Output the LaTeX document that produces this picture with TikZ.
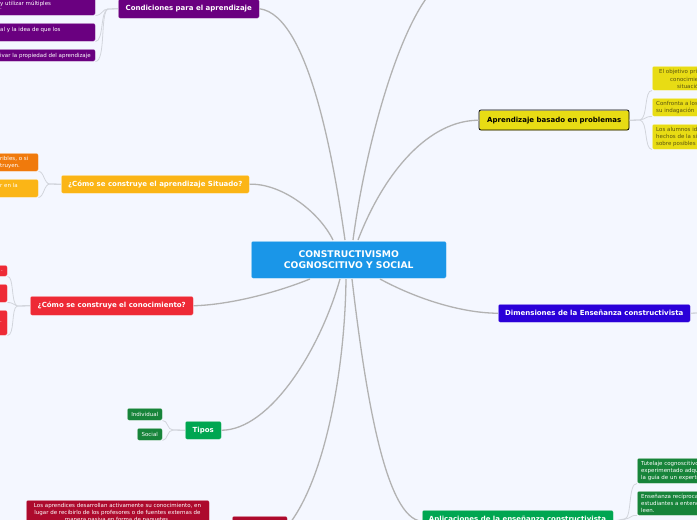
\documentclass[tikz,border=0pt]{standalone}
\usepackage{fontspec}
\setmainfont{DejaVu Sans}
\definecolor{bgc}{HTML}{F4F7FF}
\definecolor{cblue}{HTML}{1A96E8}
\definecolor{cpurple}{HTML}{6A0080}
\definecolor{corange}{HTML}{F07A0C}
\definecolor{camber}{HTML}{FBB516}
\definecolor{cred}{HTML}{EE2A36}
\definecolor{cgreen}{HTML}{00A651}
\definecolor{cdgreen}{HTML}{17843A}
\definecolor{ccrimson}{HTML}{AD0A2D}
\definecolor{cindigo}{HTML}{2A00D9}
\definecolor{cyellow}{HTML}{E8DC14}
\definecolor{mainline}{HTML}{B2B2B2}
\definecolor{subline}{HTML}{D2D5DC}
\definecolor{dtext}{HTML}{5A5410}
\tikzset{
  x=1pt,y=-1pt,
  boxbase/.style={rectangle,rounded corners=2pt,inner sep=0pt,anchor=north west,align=center,draw=white,draw opacity=.45,line width=.5pt},
  main/.style={boxbase,font=\bfseries\fontsize{7}{9}\selectfont,text=white},
  central/.style={boxbase,font=\bfseries\fontsize{9.2}{11}\selectfont,text=white},
  sub/.style={boxbase,font=\fontsize{5.5}{7}\selectfont,text=white},
  lab/.style={inner sep=0pt,draw=none,align=left,anchor=west,font=\fontsize{5.5}{7}\selectfont,text=white},
  mainlink/.style={draw=mainline,line width=1.3pt},
  sublink/.style={draw=subline,line width=.8pt},
  stemlink/.style={draw=subline,line width=1.3pt},
}
\newcommand{\bx}[8]{% name style color x1 y1 x2 y2 text
  \node[#2,fill=#3,minimum width=#6 pt-#4 pt,minimum height=#7 pt-#5 pt] (#1) at (#4,#5) {};
  \node[#2,anchor=center,draw=none,fill=none] at (#1.center) {#8};}
\begin{document}
\begin{tikzpicture}
\useasboundingbox (0,0) rectangle (697,520);
\clip (0,0) rectangle (697,520);
\fill[bgc] (0,0) rectangle (697,520);

% central
\bx{c}{central}{cblue}{251}{241}{446}{278}{CONSTRUCTIVISMO\\COGNOSCITIVO Y SOCIAL}

% main nodes
\bx{cond}{main}{cpurple}{118}{-1}{259}{18}{Condiciones para el aprendizaje}
\bx{sit}{main}{camber}{61}{175}{249}{193}{¿Cómo se construye el aprendizaje Situado?}
\bx{con}{main}{cred}{30}{296}{193}{315}{¿Cómo se construye el conocimiento?}
\bx{tip}{main}{cgreen}{185}{421}{221}{439}{Tipos}
\bx{ap}{main}{cyellow}{479}{110}{629}{130}{\color{black}Aprendizaje basado en problemas}
\draw[black,line width=.8pt,rounded corners=2pt] (479,110) rectangle (629,130);
\bx{dim}{main}{cindigo}{498}{304}{690}{322}{Dimensiones de la Enseñanza constructivista}
\node[main,fill=cgreen,minimum width=191pt,minimum height=22pt] (apl) at (422,510) {};
\node[main,anchor=center,draw=none,fill=none] at (517.5,519) {Aplicaciones de la enseñanza constructivista};
\node[boxbase,fill=ccrimson,minimum width=55pt,minimum height=20pt] (bot) at (232,516) {};

% off-page helpers
\coordinate (top) at (428,-4);

% main links
\coordinate (ct1) at (333,240);
\coordinate (ct2) at (345,240);
\coordinate (ct3) at (353,240);
\coordinate (ct4) at (358,240);
\coordinate (cb1) at (310,279);
\coordinate (cb2) at (340,279);
\coordinate (cb3) at (346,279);
\coordinate (cb4) at (352,279);
\coordinate (cb5) at (380,279);
\draw[mainlink] (ct2) .. controls (335,170) and (310,15) .. (cond.east);
\draw[mainlink] (ct1) .. controls (318,210) and (280,183) .. (sit.east);
\draw[mainlink] (cb1) .. controls (270,295) and (225,305) .. (con.east);
\draw[mainlink] (cb2) .. controls (320,350) and (270,430) .. (tip.east);
\draw[mainlink] (cb3) .. controls (345,370) and (325,480) .. (bot.east);
\draw[mainlink] (cb4) .. controls (365,390) and (385,519) .. (apl.west);
\draw[mainlink] (cb5) .. controls (415,298) and (460,313) .. (dim.west);
\draw[mainlink] (ct4) .. controls (385,170) and (430,120) .. (ap.west);
\draw[mainlink] (ct3) .. controls (365,150) and (395,40) .. (top);

% purple children
\node[boxbase,fill=cpurple,minimum width=155pt,minimum height=21pt] (p1) at (-60,-6) {};
\node[lab] at (0,4) {y utilizar múltiples};
\node[lab] at (0,9.5) {.};
\node[boxbase,fill=cpurple,minimum width=155pt,minimum height=18pt] (p2) at (-60,23) {};
\node[lab] at (0,30) {al y la idea de que los};
\node[boxbase,fill=cpurple,minimum width=155pt,minimum height=12pt] (p3) at (-60,49) {};
\node[lab] at (0,56) {ivar la propiedad del aprendizaje};
\coordinate (pf) at (108,9);
\draw[stemlink] (cond.west) -- (pf);
\draw[sublink] (pf) .. controls (102,9) and (103,15) .. (p1.south east);
\draw[sublink] (pf) .. controls (100,11) and (104,41) .. (p2.south east);
\draw[sublink] (pf) .. controls (100,12) and (106,61) .. (p3.south east);

% situado children
\node[boxbase,fill=corange,minimum width=78pt,minimum height=18pt] (s1) at (-40,153) {};
\node[lab] at (0,162) {ribles, o si\\truyen.};
\node[boxbase,fill=camber,minimum width=78pt,minimum height=18pt] (s2) at (-40,179) {};
\node[lab] at (0,185) {r en la};
\coordinate (sf) at (50,184);
\draw[stemlink] (sit.west) -- (sf);
\draw[sublink] (sf) .. controls (44,184) and (44,171) .. (s1.south east);
\draw[sublink] (sf) .. controls (44,184) and (44,197) .. (s2.south east);

% conocimiento children
\node[boxbase,fill=cred,minimum width=37pt,minimum height=11pt] (k1) at (-30,265) {};
\node[lab] at (1,271) {.};
\node[boxbase,fill=cred,minimum width=37pt,minimum height=18pt] (k2) at (-30,284) {};
\node[boxbase,fill=cred,minimum width=37pt,minimum height=25pt] (k3) at (-30,310) {};
\node[lab] at (0,322) {.};
\coordinate (kf) at (17,306);
\draw[stemlink] (con.west) -- (kf);
\draw[sublink] (kf) .. controls (11,303) and (14,276) .. (k1.south east);
\draw[sublink] (kf) .. controls (14,305) and (12,302) .. (k2.south east);
\draw[sublink] (kf) .. controls (11,309) and (15,335) .. (k3.south east);

% tipos children
\bx{ti}{sub}{cdgreen}{127}{408}{162}{420}{Individual}
\bx{ts}{sub}{cdgreen}{137}{428}{162}{440}{Social}
\coordinate (tf) at (173,430);
\draw[stemlink] (tip.west) -- (tf);
\draw[sublink] (tf) .. controls (167,430) and (168,420) .. (ti.south east);
\draw[sublink] (tf) .. controls (167,430) and (168,440) .. (ts.south east);

% bottom left text
\node[boxbase,fill=ccrimson,minimum width=183pt,minimum height=30pt] (b1) at (26,500) {};
\node[sub,anchor=north,draw=none,fill=none] at (117.5,503.5) {Los aprendices desarrollan activamente su conocimiento, en\\lugar de recibirlo de los profesores o de fuentes externas de\\manera pasiva en forma de paquetes.};

% yellow children
\node[boxbase,fill=cyellow,minimum width=108pt,minimum height=24pt] (y1) at (652,66) {};
\node[lab,text=dtext] at (659,72) {El objetivo principal};
\node[lab,text=dtext] at (670,79) {conocimiento};
\node[lab,text=dtext] at (677,86) {situación};
\node[boxbase,fill=cyellow,minimum width=108pt,minimum height=18pt] (y2) at (652,98) {};
\node[lab,text=dtext] at (656,107.5) {Confronta a los\\su indagación};
\node[boxbase,fill=cyellow,minimum width=108pt,minimum height=25pt] (y3) at (652,124) {};
\node[lab,text=dtext] at (656,136.5) {Los alumnos id\\hechos de la si\\sobre posibles};
\coordinate (yf) at (640,120);
\draw[stemlink] (ap.east) -- (yf);
\draw[sublink] (yf) .. controls (648,118) and (644,90) .. (y1.south west);
\draw[sublink] (yf) .. controls (646,119) and (646,116) .. (y2.south west);
\draw[sublink] (yf) .. controls (648,122) and (644,149) .. (y3.south west);

% green children
\node[boxbase,fill=cdgreen,minimum width=123pt,minimum height=25pt] (g1) at (637,458) {};
\node[lab] at (641,470.5) {Tutelaje cognoscitivo\\experimentado adqu\\la guía de un experto};
\node[boxbase,fill=cdgreen,minimum width=123pt,minimum height=24pt] (g2) at (637,491) {};
\node[lab] at (641,503.5) {Enseñanza recíproca\\estudiantes a entend\\leen.};
\coordinate (gf) at (625,519);
\draw[stemlink] (apl.east) -- (gf);
\draw[sublink] (gf) .. controls (632,517) and (628,483) .. (g1.south west);
\draw[sublink] (gf) .. controls (632,518) and (630,515) .. (g2.south west);
\coordinate (dimout) at (697,313);
\draw[stemlink] (dim.east) -- (dimout);
\end{tikzpicture}
\end{document}
